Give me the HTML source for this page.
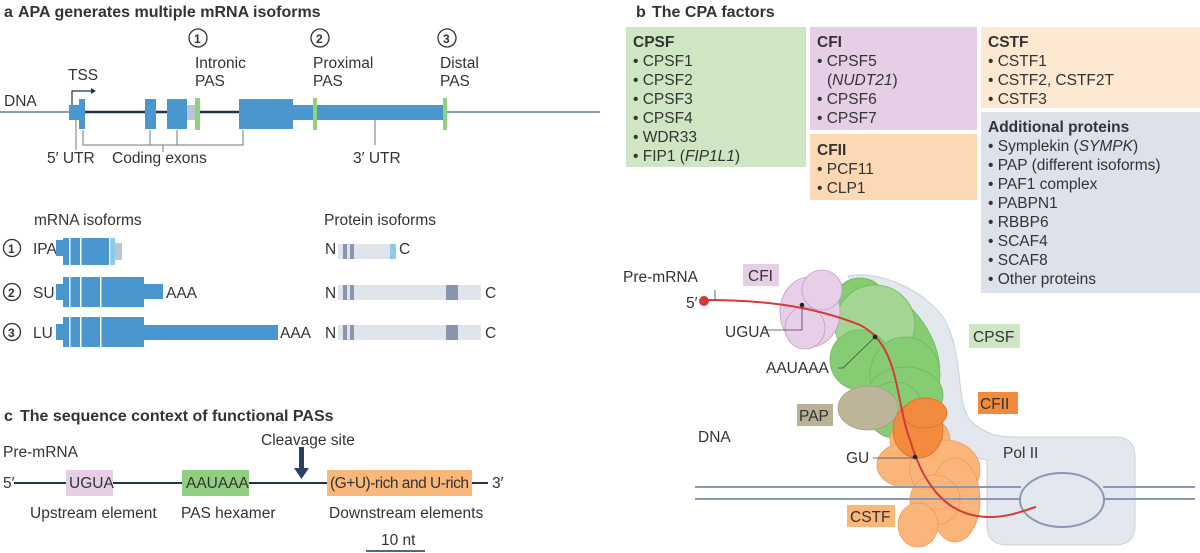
<!DOCTYPE html>
<html><head><meta charset="utf-8"><style>
body{margin:0;background:#fff}
svg{display:block;font-family:"Liberation Sans",sans-serif;fill:#333}
text{font-size:15.5px}
.b{font-weight:bold}
</style></head><body>
<svg width="1200" height="553" viewBox="0 0 1200 553" xmlns="http://www.w3.org/2000/svg">
<!-- Panel a -->
<text x="4" y="17" class="b" style="font-size:16px">a</text>
<text x="18" y="17" class="b" style="font-size:16px">APA generates multiple mRNA isoforms</text>
<g fill="none" stroke="#333" stroke-width="1.3">
<circle cx="198" cy="38" r="9"/><circle cx="320" cy="38" r="9"/><circle cx="447" cy="38" r="9"/>
</g>
<text x="194" y="43" class="b" style="font-size:12px">1</text>
<text x="316" y="43" class="b" style="font-size:12px">2</text>
<text x="443" y="43" class="b" style="font-size:12px">3</text>
<text x="195" y="68">Intronic</text><text x="195" y="86">PAS</text>
<text x="313" y="68">Proximal</text><text x="313" y="86">PAS</text>
<text x="440" y="68">Distal</text><text x="440" y="86">PAS</text>
<text x="4" y="106">DNA</text>
<text x="68" y="80">TSS</text>
<line x1="0" y1="112" x2="600" y2="112" stroke="#8a9bb5" stroke-width="2"/>
<line x1="84" y1="112" x2="240" y2="112" stroke="#1f3352" stroke-width="2.5"/>
<path d="M72 106V91H92" fill="none" stroke="#1f3352" stroke-width="1.2"/>
<path d="M91 88L96 91L91 94Z" fill="#1f3352"/>
<g fill="#4a97d0">
<rect x="69" y="105" width="12" height="15"/><rect x="79" y="99" width="6" height="30"/>
<rect x="145" y="99" width="11" height="30"/><rect x="167" y="99" width="20" height="30"/>
<rect x="239" y="99" width="54" height="30"/><rect x="293" y="105" width="154" height="15"/>
</g>
<rect x="187" y="105" width="10" height="15" fill="#bac5d6"/>
<g fill="#8fd17f"><rect x="195" y="98" width="5" height="32"/><rect x="313" y="98" width="4" height="32"/><rect x="443" y="98" width="4" height="32"/></g>
<g stroke="#777" stroke-width="1" fill="none">
<line x1="76" y1="120" x2="76" y2="150"/>
<path d="M83 130V145H243V130M150 130V145M177 130V145M163 145V152"/>
<line x1="375" y1="120" x2="375" y2="145"/>
</g>
<text x="47" y="163">5′ UTR</text><text x="112" y="163">Coding exons</text><text x="353" y="163">3′ UTR</text>
<text x="34" y="225">mRNA isoforms</text><text x="324" y="225">Protein isoforms</text>
<g fill="none" stroke="#333" stroke-width="1.3"><circle cx="12" cy="248" r="8.5"/><circle cx="12" cy="292" r="8.5"/><circle cx="12" cy="332" r="8.5"/></g>
<text x="8" y="253" class="b" style="font-size:12px">1</text><text x="8" y="297" class="b" style="font-size:12px">2</text><text x="8" y="337" class="b" style="font-size:12px">3</text>
<text x="33" y="254">IPA</text><text x="33" y="298">SU</text><text x="33" y="338">LU</text>
<g fill="#4a97d0">
<rect x="56" y="240" width="8" height="16"/><rect x="63" y="238" width="47" height="27"/>
<rect x="56" y="284" width="8" height="16"/><rect x="63" y="277" width="81" height="30"/><rect x="144" y="284" width="19" height="15"/>
<rect x="56" y="324" width="8" height="16"/><rect x="63" y="317" width="81" height="30"/><rect x="144" y="325" width="134" height="15"/>
</g>
<rect x="110" y="238" width="5" height="27" fill="#8fc9ea"/><rect x="115" y="243" width="7" height="17" fill="#bac5d6"/>
<g fill="#fff"><rect x="69" y="236" width="1.5" height="120"/><rect x="80" y="236" width="1.5" height="120"/><rect x="100" y="270" width="1.5" height="90"/><rect x="109" y="236" width="1.2" height="30"/></g>
<text x="166" y="298">AAA</text><text x="280" y="338">AAA</text>
<text x="325" y="254">N</text><text x="399" y="254">C</text>
<text x="325" y="298">N</text><text x="485" y="298">C</text>
<text x="325" y="338">N</text><text x="485" y="338">C</text>
<g fill="#dfe3ea"><rect x="338" y="244" width="58" height="15"/><rect x="338" y="285" width="143" height="15"/><rect x="338" y="325" width="143" height="15"/></g>
<g fill="#8a95ad">
<rect x="343" y="244" width="4" height="15"/><rect x="350" y="244" width="4" height="15"/>
<rect x="343" y="285" width="4" height="15"/><rect x="350" y="285" width="4" height="15"/><rect x="446" y="285" width="12" height="15"/>
<rect x="343" y="325" width="4" height="15"/><rect x="350" y="325" width="4" height="15"/><rect x="446" y="325" width="12" height="15"/>
</g>
<rect x="390" y="244" width="6" height="15" fill="#8fc9ea"/>
<!-- Panel c -->
<text x="4" y="421" class="b" style="font-size:16px">c</text>
<text x="20" y="421" class="b" style="font-size:16px">The sequence context of functional PASs</text>
<text x="3" y="457">Pre-mRNA</text>
<text x="261" y="445">Cleavage site</text>
<line x1="14" y1="483" x2="488" y2="483" stroke="#1f3352" stroke-width="2"/>
<text x="3" y="488">5′</text><text x="492" y="488">3′</text>
<rect x="66" y="470" width="47" height="26" fill="#e6cfe6"/><text x="69" y="488">UGUA</text>
<rect x="182" y="470" width="67" height="26" fill="#8fcf7f"/><text x="186" y="488">AAUAAA</text>
<rect x="327" y="470" width="145" height="26" fill="#f9b87a"/><text x="330" y="488" textLength="139">(G+U)-rich and U-rich</text>
<path d="M299 447H304V468H309L301.5 479L294 468H299Z" fill="#2c4060"/>
<text x="30" y="518">Upstream element</text><text x="181" y="518">PAS hexamer</text><text x="329" y="518">Downstream elements</text>
<text x="381" y="545">10 nt</text><line x1="366" y1="551" x2="425" y2="551" stroke="#1f3352" stroke-width="1.5"/>
<!-- Panel b -->
<text x="636" y="17" class="b" style="font-size:16px">b</text>
<text x="652" y="17" class="b" style="font-size:16px">The CPA factors</text>
<rect x="626" y="27" width="180" height="140" fill="#cfe6c4"/>
<rect x="810" y="27" width="167" height="103" fill="#e6cfe6"/>
<rect x="810" y="134" width="167" height="66" fill="#fcd9b4"/>
<rect x="981" y="27" width="219" height="81" fill="#fde8d2"/>
<rect x="981" y="112" width="219" height="181" fill="#dce1ea"/>
<text x="633" y="47" class="b">CPSF</text>
<text x="633" y="66">• CPSF1</text><text x="633" y="85">• CPSF2</text><text x="633" y="104">• CPSF3</text><text x="633" y="123">• CPSF4</text><text x="633" y="142">• WDR33</text><text x="633" y="161">• FIP1 (<tspan font-style="italic">FIP1L1</tspan>)</text>
<text x="817" y="47" class="b">CFI</text>
<text x="817" y="66">• CPSF5</text><text x="827" y="85">(<tspan font-style="italic">NUDT21</tspan>)</text><text x="817" y="104">• CPSF6</text><text x="817" y="123">• CPSF7</text>
<text x="817" y="155" class="b">CFII</text><text x="817" y="174">• PCF11</text><text x="817" y="193">• CLP1</text>
<text x="988" y="47" class="b">CSTF</text>
<text x="988" y="66">• CSTF1</text><text x="988" y="85">• CSTF2, CSTF2T</text><text x="988" y="104">• CSTF3</text>
<text x="988" y="132" class="b">Additional proteins</text>
<text x="988" y="151">• Symplekin (<tspan font-style="italic">SYMPK</tspan>)</text>
<text x="988" y="170">• PAP (different isoforms)</text>
<text x="988" y="189">• PAF1 complex</text>
<text x="988" y="208">• PABPN1</text>
<text x="988" y="227">• RBBP6</text>
<text x="988" y="246">• SCAF4</text>
<text x="988" y="265">• SCAF8</text>
<text x="988" y="284">• Other proteins</text>
<!-- complex -->
<path d="M848 276C880 270 925 290 945 320C965 360 955 400 970 420C985 435 1000 437 1015 437H1115Q1135 437 1135 457V525Q1135 545 1115 545H1007Q987 545 987 525V460C975 458 960 455 945 440C920 420 860 300 848 276Z" fill="#e3e8ef" stroke="#c9d1de" stroke-width="1"/>
<g fill="#86cc73" stroke="#6fb65c" stroke-width="0.8">
<ellipse cx="860" cy="300" rx="25" ry="22"/>
<ellipse cx="890" cy="345" rx="65" ry="40" transform="rotate(55 890 345)"/>
<ellipse cx="875" cy="325" rx="40" ry="40" fill="#a3d693"/>
<ellipse cx="860" cy="360" rx="30" ry="30"/>
<ellipse cx="905" cy="375" rx="35" ry="38"/>
<ellipse cx="905" cy="395" rx="38" ry="28"/>
<ellipse cx="895" cy="410" rx="28" ry="28"/>
</g>
<g fill="#e8cfe8" stroke="#c49ac6" stroke-width="0.8">
<ellipse cx="810" cy="312" rx="30" ry="35"/>
<ellipse cx="822" cy="290" rx="20" ry="20"/>
<ellipse cx="805" cy="328" rx="20" ry="21"/>
</g>
<g fill="#fbb479" stroke="#f29a55" stroke-width="0.8">
<ellipse cx="920" cy="440" rx="30" ry="25"/>
<ellipse cx="905" cy="465" rx="28" ry="22"/>
<ellipse cx="945" cy="470" rx="35" ry="30"/>
<ellipse cx="955" cy="500" rx="25" ry="42"/>
<ellipse cx="935" cy="500" rx="25" ry="25"/>
<ellipse cx="918" cy="525" rx="20" ry="22"/>
</g>
<ellipse cx="918" cy="430" rx="25" ry="28" fill="#f28b3e" stroke="#d96f23" stroke-width="0.8"/>
<ellipse cx="925" cy="413" rx="22" ry="15" fill="#f28b3e" stroke="#d96f23" stroke-width="0.8"/>
<ellipse cx="868" cy="408" rx="30" ry="22" fill="#bdb59a" stroke="#a59d80" stroke-width="0.8"/>
<g stroke="#8a98b3" stroke-width="2" fill="none">
<path d="M695 487H1021M1103 487H1195M695 499H1021M1103 499H1195"/>
<ellipse cx="1062" cy="500" rx="42" ry="27"/>
</g>
<path d="M704 300C760 300 810 305 860 325C900 345 895 400 910 440C925 490 950 517 990 517C1010 517 1025 510 1036 507" fill="none" stroke="#d43a3a" stroke-width="2"/>
<circle cx="704" cy="301" r="5" fill="#d43a3a"/>
<g fill="#222"><circle cx="802" cy="305" r="2.3"/><circle cx="875" cy="337" r="2.3"/><circle cx="915" cy="457" r="2.3"/></g>
<g stroke="#444" stroke-width="0.8" fill="none">
<path d="M764 330H802V305"/><path d="M838 368H843L875 337"/><path d="M873 458H915"/><path d="M715 300V290"/>
</g>
<text x="623" y="282">Pre-mRNA</text><text x="686" y="308">5′</text>
<rect x="743" y="264" width="36" height="22" fill="#e6cfe6"/><text x="748" y="281">CFI</text>
<text x="725" y="337">UGUA</text><text x="766" y="373">AAUAAA</text>
<rect x="969" y="324" width="51" height="24" fill="#cfe6c4"/><text x="973" y="342">CPSF</text>
<rect x="797" y="404" width="36" height="22" fill="#b8b195"/><text x="799" y="421">PAP</text>
<rect x="978" y="392" width="40" height="22" fill="#f08a3c"/><text x="980" y="409">CFII</text>
<text x="846" y="463">GU</text><text x="698" y="442">DNA</text><text x="1003" y="458">Pol II</text>
<rect x="847" y="505" width="48" height="22" fill="#f9b87a"/><text x="850" y="522">CSTF</text>
</svg>
</body></html>
